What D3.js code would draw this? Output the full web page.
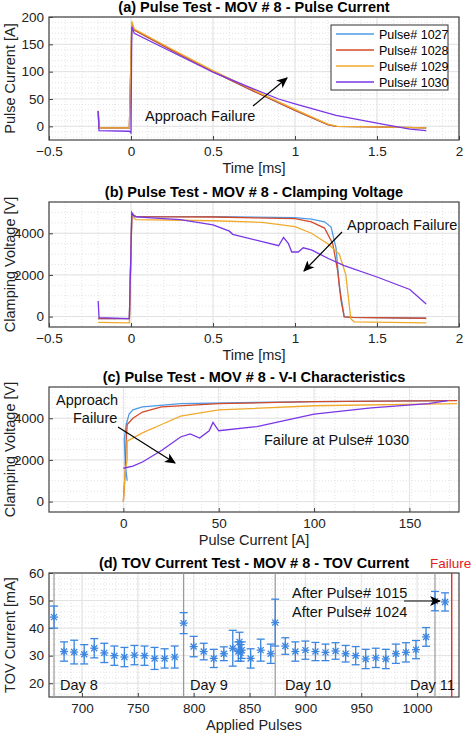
<!DOCTYPE html>
<html><head><meta charset="utf-8">
<script src="https://cdn.jsdelivr.net/npm/d3@7"></script>
<style>body{margin:0;background:#fff}text{font-family:"Liberation Sans",Arial,sans-serif}</style>
</head><body><div id="content"></div>
<script>
// series names and colours
var pulses = ['Pulse# 1027', 'Pulse# 1028', 'Pulse# 1029', 'Pulse# 1030'];
var colors = ['#4d9be6', '#d24a2a', '#efaa2c', '#7a35e6'];

// (a) pulse current [time ms, A]
var curA = [
  [[-0.2,28],[-0.195,-3],[-0.01,-3],[0.005,188],[0.02,176],[0.25,139],[0.5,100],[0.75,64],[1.0,29],[1.2,3],[1.25,0],[1.5,-1],[1.8,-3]],
  [[-0.2,28],[-0.195,-3],[-0.01,-3],[0.005,188],[0.02,176],[0.25,139],[0.5,100],[0.75,64],[1.0,29],[1.2,3],[1.25,0],[1.5,-1],[1.8,-3]],
  [[-0.2,28],[-0.195,-3],[-0.01,-3],[0.005,192],[0.02,178],[0.25,141],[0.5,102],[0.75,66],[1.0,31],[1.2,4],[1.26,0],[1.5,-1],[1.8,-3]],
  [[-0.2,28],[-0.195,-8],[-0.01,-9],[0,-12],[0.005,182],[0.02,170],[0.25,136],[0.5,99],[0.75,68],[0.9,50],[1.0,41],[1.25,20],[1.5,6],[1.7,-5],[1.8,-8]]
];
// (b) clamping voltage [time ms, V]
var voltB = [
  [[-0.2,-100],[-0.01,-100],[0.005,4950],[0.03,4800],[0.5,4800],[1.0,4750],[1.1,4680],[1.18,4550],[1.22,4300],[1.25,3300],[1.27,1500],[1.3,0],[1.35,-40],[1.8,-80]],
  [[-0.2,-100],[-0.01,-100],[0.005,4900],[0.03,4800],[0.5,4780],[1.0,4700],[1.1,4550],[1.18,4250],[1.23,3500],[1.26,2200],[1.28,800],[1.3,-20],[1.35,-40],[1.8,-80]],
  [[-0.2,-280],[-0.01,-300],[0.005,4800],[0.03,4650],[0.5,4600],[0.8,4520],[1.0,4320],[1.1,4000],[1.2,3500],[1.27,3000],[1.31,2000],[1.34,-100],[1.36,-250],[1.8,-300]],
  [[-0.2,750],[-0.195,-50],[-0.01,-100],[0.005,5000],[0.02,4800],[0.1,4750],[0.3,4650],[0.5,4400],[0.6,4100],[0.62,3950],[0.8,3600],[0.9,3400],[0.93,3800],[0.96,3500],[0.98,3100],[1.02,3100],[1.05,3300],[1.1,3200],[1.2,2800],[1.3,2450],[1.5,1900],[1.7,1300],[1.8,600]]
];
// (c) V-I characteristics [A, V]
var viC = [
  [[2,1000],[1,1800],[0.5,3000],[1.5,3700],[3,4200],[5,4400],[10,4550],[30,4700],[100,4800],[170,4850]],
  [[0,0],[1,1500],[1.5,3000],[2,3700],[5,4000],[10,4300],[20,4550],[50,4700],[100,4800],[175,4850]],
  [[0,0],[1,1500],[2,2000],[2,2900],[10,3300],[20,3700],[30,4100],[50,4400],[100,4600],[175,4700]],
  [[0,1600],[5,1700],[10,1900],[20,2450],[30,3100],[35,3250],[40,3050],[45,3400],[47,3800],[50,3400],[70,3600],[85,3900],[100,4200],[130,4500],[160,4700],[170,4850]]
];
// (d) TOV current: applied pulses, mean mA, half error bar
var tovX = [675,684,693,702,711,720,729,738,747,756,765,774,783,791,800,809,818,827,835,840,841,842,843,851,860,869,873,882,891,900,909,918,927,936,945,954,963,972,981,990,999,1008,1016,1025];
var tovY = [44,31.5,31.3,30.5,32.7,31,30,29.5,30.2,30,29,29,29.5,41.8,33.3,31.5,29,30.7,32.7,31.5,35,31,32,29,32,30.7,42,33.5,31.5,32,31.5,31.2,31.7,30.7,30,28.8,29.2,28.8,30.7,31.2,32.2,36.8,49.8,49.5];
var tovE = [4,3.5,4.3,3.5,3.5,3.5,3.5,3.5,3.5,3.5,4,3.5,4,3.8,3.7,3,3.3,2.5,6.5,3.5,3.5,3,3,3.5,4,3.5,8.5,3,3.5,3.3,3.3,3,3,3,3.3,3.5,3.5,3.5,3.5,3.5,3.3,3.4,3.5,3.3];
var dayLines = [675, 791, 873, 1016];
var failAt = 1031;

var svg = d3.select('#content').append('svg').attr('width', 474).attr('height', 736);
var L = 49, R = 459;

function panel(o) {
  var g = svg.append('g');
  var x = d3.scaleLinear().domain(o.xd).range([L, R]);
  var y = d3.scaleLinear().domain(o.yd).range([o.bot, o.top]);
  // minor grid
  var xm = d3.range(o.xd[0], o.xd[1] + 1e-9, o.xmin), ym = d3.range(Math.ceil(o.yd[0] / o.ymin) * o.ymin, o.yd[1] + 1e-9, o.ymin);
  g.selectAll('.xm').data(xm).enter().append('line')
    .attr('x1', x).attr('x2', x).attr('y1', o.top).attr('y2', o.bot)
    .attr('stroke', '#d8d8d8').attr('stroke-dasharray', '1,2').attr('stroke-width', 0.7);
  g.selectAll('.ym').data(ym).enter().append('line')
    .attr('y1', y).attr('y2', y).attr('x1', L).attr('x2', R)
    .attr('stroke', '#d8d8d8').attr('stroke-dasharray', '1,2').attr('stroke-width', 0.7);
  // major grid
  g.selectAll('.xg').data(o.xt).enter().append('line')
    .attr('x1', x).attr('x2', x).attr('y1', o.top).attr('y2', o.bot).attr('stroke', '#e2e2e2');
  g.selectAll('.yg').data(o.yt).enter().append('line')
    .attr('y1', y).attr('y2', y).attr('x1', L).attr('x2', R).attr('stroke', '#e2e2e2');
  // axes
  var ax = g.append('g').attr('transform', 'translate(0,' + o.bot + ')')
    .call(d3.axisBottom(x).tickValues(o.xt).tickSize(-4).tickPadding(6).tickFormat(d3.format('~g')));
  var ay = g.append('g').attr('transform', 'translate(' + L + ',0)')
    .call(d3.axisLeft(y).tickValues(o.yt).tickSize(-4).tickPadding(5).tickFormat(d3.format('~g')));
  [ax, ay].forEach(function(a) {
    a.select('.domain').remove();
    a.selectAll('line').attr('stroke', '#444');
    a.selectAll('text').attr('font-size', 13.5).attr('fill', '#222');
  });
  g.append('rect').attr('x', L).attr('y', o.top).attr('width', R - L).attr('height', o.bot - o.top)
    .attr('fill', 'none').attr('stroke', '#444').attr('stroke-width', 1.2);
  g.append('text').attr('x', 254).attr('y', o.top - 5).attr('text-anchor', 'middle')
    .attr('font-size', 14.5).attr('font-weight', 'bold').text(o.title);
  g.append('text').attr('x', 254).attr('y', o.bot + 33).attr('text-anchor', 'middle')
    .attr('font-size', 14.5).attr('fill', '#222').text(o.xlabel);
  g.append('text').attr('transform', 'translate(15,' + (o.top + o.bot) / 2 + ') rotate(-90)')
    .attr('text-anchor', 'middle').attr('font-size', 14.5).attr('fill', '#222').text(o.ylabel);
  var clip = 'c' + o.top;
  svg.append('clipPath').attr('id', clip).append('rect')
    .attr('x', L).attr('y', o.top).attr('width', R - L).attr('height', o.bot - o.top);
  var plot = g.append('g').attr('clip-path', 'url(#' + clip + ')');
  return {x: x, y: y, g: g, plot: plot};
}

// arrow marker
svg.append('defs').append('marker').attr('id', 'arr').attr('viewBox', '0 0 10 10')
  .attr('refX', 9).attr('refY', 5).attr('markerWidth', 11).attr('markerHeight', 11).attr('orient', 'auto')
  .attr('markerUnits', 'userSpaceOnUse')
  .append('path').attr('d', 'M0,0.5 L10,5 L0,9.5 L2.5,5 Z').attr('fill', '#000');
function arrow(g, x1, y1, x2, y2) {
  g.append('line').attr('x1', x1).attr('y1', y1).attr('x2', x2).attr('y2', y2)
    .attr('stroke', '#000').attr('stroke-width', 1.2).attr('marker-end', 'url(#arr)');
}
function label(g, x, y, t, c, fs) {
  g.append('text').attr('x', x).attr('y', y).attr('font-size', fs || 14.5).attr('fill', c || '#111').text(t);
}
function lines(p, sets) {
  var line = d3.line().x(function(d) { return p.x(d[0]); }).y(function(d) { return p.y(d[1]); });
  sets.forEach(function(s, i) {
    p.plot.append('path').attr('d', line(s)).attr('fill', 'none')
      .attr('stroke', colors[i]).attr('stroke-width', 1.3);
  });
}

// (a)
var pa = panel({xd: [-0.5, 2], yd: [-25, 200], top: 17, bot: 140, xt: [-0.5, 0, 0.5, 1, 1.5, 2], yt: [0, 50, 100, 150, 200],
  xmin: 0.1, ymin: 10, title: '(a) Pulse Test - MOV # 8 - Pulse Current', xlabel: 'Time [ms]', ylabel: 'Pulse Current [A]'});
lines(pa, curA);
label(pa.g, 145, 121, 'Approach Failure');
arrow(pa.g, 253, 106, 287, 78);
var lg = pa.g.append('g');
lg.append('rect').attr('x', 331).attr('y', 25).attr('width', 117).attr('height', 65)
  .attr('fill', '#fff').attr('stroke', '#333');
pulses.forEach(function(p, i) {
  var yy = 34 + i * 16;
  lg.append('line').attr('x1', 336).attr('x2', 374).attr('y1', yy).attr('y2', yy)
    .attr('stroke', colors[i]).attr('stroke-width', 1.3);
  lg.append('text').attr('x', 379).attr('y', yy + 4.5).attr('font-size', 12.5).text(p);
});

// (b)
var pb = panel({xd: [-0.5, 2], yd: [-500, 5500], top: 202, bot: 327, xt: [-0.5, 0, 0.5, 1, 1.5, 2], yt: [0, 2000, 4000],
  xmin: 0.1, ymin: 500, title: '(b) Pulse Test - MOV # 8 - Clamping Voltage', xlabel: 'Time [ms]', ylabel: 'Clamping Voltage [V]'});
lines(pb, voltB);
label(pb.g, 347, 230, 'Approach Failure');
arrow(pb.g, 342, 232, 304, 271);

// (c)
var pc = panel({xd: [-39, 176], yd: [-500, 5500], top: 387, bot: 512, xt: [0, 50, 100, 150], yt: [0, 2000, 4000],
  xmin: 10, ymin: 500, title: '(c) Pulse Test - MOV # 8 - V-I Characteristics', xlabel: 'Pulse Current [A]', ylabel: 'Clamping Voltage [V]'});
lines(pc, viC);
label(pc.g, 56, 405, 'Approach');
label(pc.g, 73, 423, 'Failure');
label(pc.g, 264, 445, 'Failure at Pulse# 1030');
arrow(pc.g, 118, 427, 175, 463);

// (d)
var pd = panel({xd: [670.5, 1037.5], yd: [15, 60], top: 573, bot: 697, xt: [700, 750, 800, 850, 900, 950, 1000], yt: [20, 30, 40, 50, 60],
  xmin: 10, ymin: 2, title: '(d) TOV Current Test - MOV # 8 - TOV Current', xlabel: 'Applied Pulses', ylabel: 'TOV Current [mA]'});
pd.plot.selectAll('.dl').data(dayLines).enter().append('line')
  .attr('x1', pd.x).attr('x2', pd.x).attr('y1', 573).attr('y2', 697).attr('stroke', '#999').attr('stroke-width', 1.2);
pd.plot.append('line').attr('x1', pd.x(failAt)).attr('x2', pd.x(failAt)).attr('y1', 573).attr('y2', 697)
  .attr('stroke', '#e02020').attr('stroke-width', 1.3);
var tb = '#3b86e0';
tovX.forEach(function(v, i) {
  var cx = pd.x(v), y0 = pd.y(tovY[i] - tovE[i]), y1 = pd.y(tovY[i] + tovE[i]), cy = pd.y(tovY[i]);
  var e = pd.plot.append('g').attr('stroke', tb).attr('stroke-width', 1.3);
  e.append('line').attr('x1', cx).attr('x2', cx).attr('y1', y0).attr('y2', y1);
  e.append('line').attr('x1', cx - 4).attr('x2', cx + 4).attr('y1', y0).attr('y2', y0);
  e.append('line').attr('x1', cx - 4).attr('x2', cx + 4).attr('y1', y1).attr('y2', y1);
  [[-4, 0, 4, 0], [0, -4, 0, 4], [-3, -3, 3, 3], [-3, 3, 3, -3]].forEach(function(s) {
    e.append('line').attr('x1', cx + s[0]).attr('y1', cy + s[1]).attr('x2', cx + s[2]).attr('y2', cy + s[3]);
  });
});
label(pd.g, 60, 690, 'Day 8');
label(pd.g, 190, 690, 'Day 9');
label(pd.g, 285, 690, 'Day 10');
label(pd.g, 410, 690, 'Day 11');
label(pd.g, 292, 598, 'After Pulse# 1015');
label(pd.g, 292, 617, 'After Pulse# 1024');
arrow(pd.g, 404, 601, 440, 601);
label(pd.g, 430, 568, 'Failure', '#e02020', 13.5);
</script>
</body></html>
